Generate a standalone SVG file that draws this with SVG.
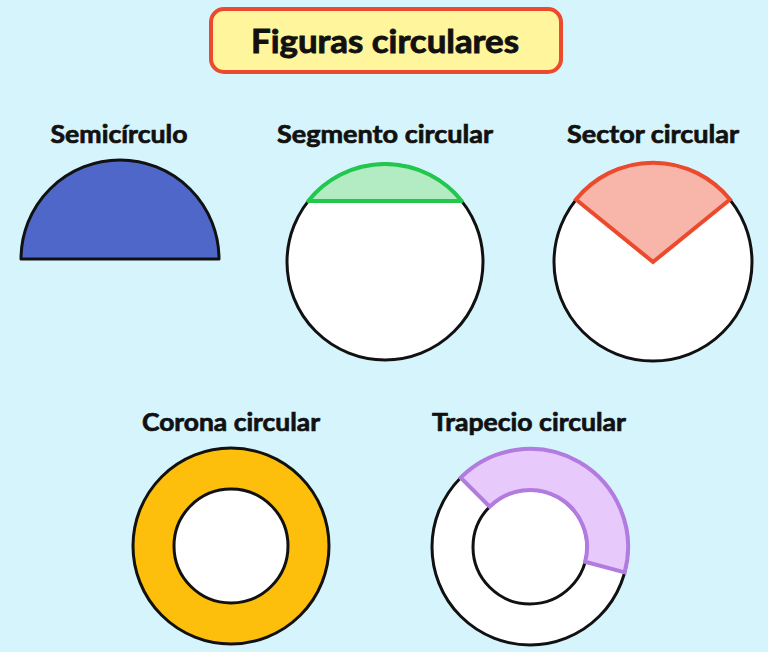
<svg xmlns="http://www.w3.org/2000/svg" width="768" height="652" viewBox="0 0 768 652">
<style>
.lbl{font-family:Lato,"Open Sans","Liberation Sans",sans-serif;font-weight:bold;font-size:25px;fill:#111;stroke:#111;stroke-width:0.7;text-anchor:middle}
.ttl{font-family:Lato,"Open Sans","Liberation Sans",sans-serif;font-weight:bold;font-size:33px;fill:#111;stroke:#111;stroke-width:0.9;text-anchor:middle}
.blk{stroke:#111;stroke-width:3;fill:#fff}
</style>
<rect width="768" height="652" fill="#D5F4FC"/>
<g id="title">
<rect x="211" y="9" width="350" height="63" rx="13" fill="#FEF59C" stroke="#EC4A2C" stroke-width="4"/>
<text class="ttl" x="385" y="53" textLength="268" lengthAdjust="spacingAndGlyphs">Figuras circulares</text>
</g>
<g id="semicirculo">
<text class="lbl" x="119" y="143" textLength="137" lengthAdjust="spacingAndGlyphs">Semicírculo</text>
<path d="M21 259 A99 99 0 0 1 219 259 Z" fill="#4F67C8" stroke="#111" stroke-width="3" stroke-linejoin="round"/>
</g>
<g id="segmento">
<text class="lbl" x="385" y="143" textLength="216" lengthAdjust="spacingAndGlyphs">Segmento circular</text>
<circle class="blk" cx="385" cy="262" r="98"/>
<path d="M308.3 201 A98 98 0 0 1 461.7 201 Z" fill="#B3EBC3" stroke="#22C84E" stroke-width="4" stroke-linejoin="round"/>
</g>
<g id="sector">
<text class="lbl" x="653" y="143" textLength="172" lengthAdjust="spacingAndGlyphs">Sector circular</text>
<circle class="blk" cx="653" cy="262" r="99"/>
<path d="M653 262 L576 199.5 A99 99 0 0 1 730 199.5 Z" fill="#F8B5A9" stroke="#EC4A2C" stroke-width="4" stroke-linejoin="miter"/>
</g>
<g id="corona">
<text class="lbl" x="231" y="431" textLength="178" lengthAdjust="spacingAndGlyphs">Corona circular</text>
<circle cx="231" cy="546" r="98" fill="#FDBE0C" stroke="#111" stroke-width="3"/>
<circle class="blk" cx="231" cy="546" r="57"/>
</g>
<g id="trapecio">
<text class="lbl" x="529" y="431" textLength="194" lengthAdjust="spacingAndGlyphs">Trapecio circular</text>
<circle class="blk" cx="530" cy="547" r="98"/>
<circle class="blk" cx="530" cy="547" r="57"/>
<path d="M460.7 477.7 A98 98 0 0 1 624.7 572.4 L585.1 561.8 A57 57 0 0 0 489.7 506.7 Z" fill="#E7C9FB" stroke="#B27BE0" stroke-width="4" stroke-linejoin="miter"/>
</g>
</svg>
